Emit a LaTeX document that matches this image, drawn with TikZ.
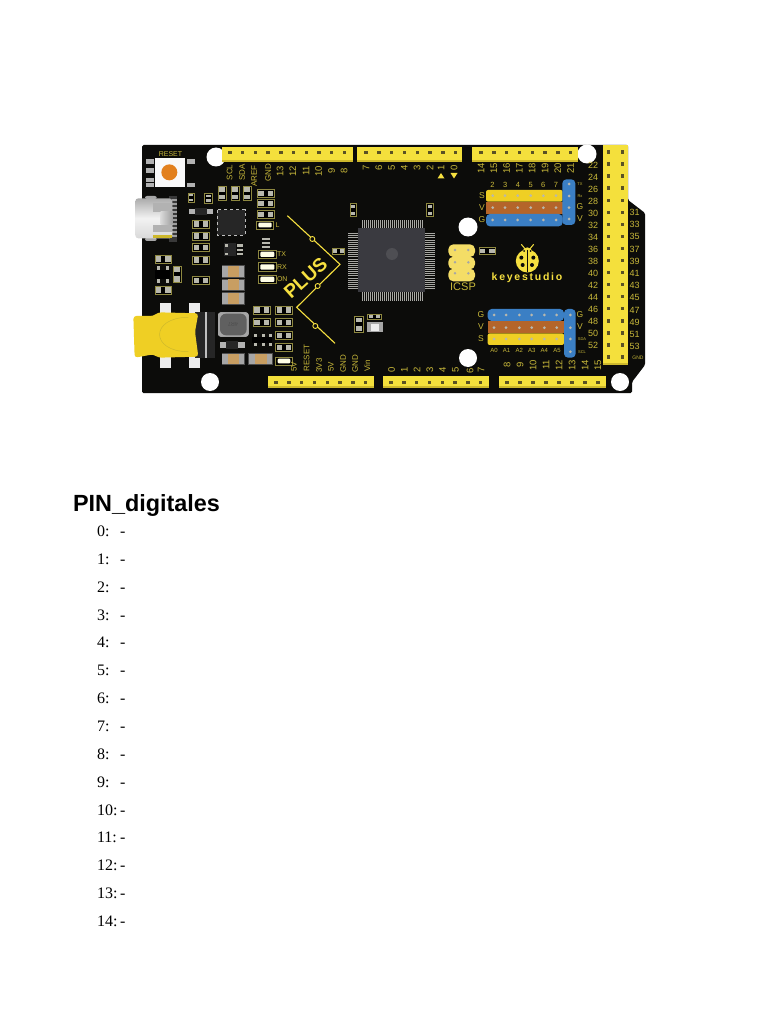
\documentclass[tikz,border=0pt]{standalone}
\usepackage{fontspec}
\setmainfont{Liberation Serif}
\newfontfamily\sansf{Liberation Sans}
\definecolor{pcb}{HTML}{0C0C0A}
\definecolor{hdr}{HTML}{F4E03C}
\definecolor{hdrd}{HTML}{CDB82C}
\definecolor{pinc}{HTML}{5A5224}
\definecolor{silk}{HTML}{C8B83A}
\definecolor{silkb}{HTML}{F6E040}
\definecolor{bluep}{HTML}{3B7FC4}
\definecolor{orgp}{HTML}{B4652A}
\definecolor{yelp}{HTML}{EFCF24}
\definecolor{pcont}{HTML}{B8B8AE}
\definecolor{smdline}{HTML}{8E8840}
\definecolor{chip}{HTML}{3A3A40}
\definecolor{chipleg}{HTML}{A8A8A4}
\definecolor{capt}{HTML}{C89E62}
\newcounter{lblc}
\newcommand{\txt}[4][]{\stepcounter{lblc}\node[lbl,#1] (n\thelblc) at (#2,#3) {#4};}
\newcommand{\hdrbar}[4]{\fill[hdr] (#1,#2) rectangle (#3,#4); \fill[hdrd] (#1,{#4-2}) rectangle (#3,#4);}
\newcommand{\smdh}[4]{\fill[black] ({#1-#3/2},{#2-#4/2}) rectangle ({#1+#3/2},{#2+#4/2});
 \draw[smdline,line width=.7pt] ({#1-#3/2},{#2-#4/2}) rectangle ({#1+#3/2},{#2+#4/2});
 \fill[pcont] ({#1-#3/2+3},{#2-#4/2+4}) rectangle ({#1-#3/8},{#2+#4/2-4});
 \fill[pcont] ({#1+#3/8},{#2-#4/2+4}) rectangle ({#1+#3/2-3},{#2+#4/2-4});}
\newcommand{\smdv}[4]{\fill[black] ({#1-#3/2},{#2-#4/2}) rectangle ({#1+#3/2},{#2+#4/2});
 \draw[smdline,line width=.7pt] ({#1-#3/2},{#2-#4/2}) rectangle ({#1+#3/2},{#2+#4/2});
 \fill[pcont] ({#1-#3/2+4},{#2-#4/2+3}) rectangle ({#1+#3/2-4},{#2-#4/8});
 \fill[pcont] ({#1-#3/2+4},{#2+#4/8}) rectangle ({#1+#3/2-4},{#2+#4/2-3});}
\newcommand{\led}[4]{\fill[black] ({#1-#3/2},{#2-#4/2}) rectangle ({#1+#3/2},{#2+#4/2});
 \draw[smdline,line width=.7pt] ({#1-#3/2},{#2-#4/2}) rectangle ({#1+#3/2},{#2+#4/2});
 \fill[white!90!yellow,rounded corners=1pt] ({#1-#3/2+6},{#2-#4/2+5}) rectangle ({#1+#3/2-6},{#2+#4/2-5});}
\newcommand{\capa}[4]{\fill[black!70] ({#1-#3/2},{#2-#4/2}) rectangle ({#1+#3/2},{#2+#4/2});
 \fill[gray!70] ({#1-#3/2+2},{#2-#4/2+3}) rectangle ({#1+#3/2-2},{#2+#4/2-3});
 \fill[capt] ({#1-#3/4},{#2-#4/2+2}) rectangle ({#1+#3/4},{#2+#4/2-2});}
\tikzset{
 x=1pt,y=-1pt,
 lbl/.style={inner sep=0pt,outer sep=0pt},
 silktxt/.style={text=silk,font=\sansf\fontsize{8}{8}\selectfont},
 hole/.style={fill=white},
 pin/.style={fill=pinc},
 rowpin/.style={fill=pcont},
 listtxt/.style={anchor=base west,font=\fontsize{16}{16}\selectfont},
 left zoom/.style={shift={(130,135)},x=.33333pt,y=-.33333pt},
 right zoom/.style={shift={(380,135)},x=.33333pt,y=-.33333pt},
}
\begin{document}
\begin{tikzpicture}
\fill[white] (0,0) rectangle (768,1024);
\useasboundingbox (0,0) rectangle (768,1024);
% board
\fill[pcb,rounded corners=1.5pt] (142,145) -- (628,145) -- (628,200) -- (645,213) -- (645,365) -- (632,382) -- (632,393) -- (142,393) -- cycle;
% holes
\foreach \hx/\hy/\hr in {216/157/9.5,210/382/9,468/227/9.5,468/358/9,587/154/9.5,620/382/9}
  \fill[hole] (\hx,\hy) circle (\hr pt);
% headers
\hdrbar{222}{147}{353}{162}
\foreach \i in {0,...,9} \fill[pin] ({230+12.7*\i-1.7},151) rectangle +(3.4,3.4);
\hdrbar{357}{147}{462}{162}
\foreach \i in {0,...,7} \fill[pin] ({366+12.8*\i-1.7},151) rectangle +(3.4,3.4);
\hdrbar{472}{147}{578}{162}
\foreach \i in {0,...,7} \fill[pin] ({481+12.8*\i-1.7},151) rectangle +(3.4,3.4);
\hdrbar{268}{376}{374}{388}
\foreach \i in {0,...,7} \fill[pin] ({276+12.8*\i-1.7},380.5) rectangle +(3.4,3.4);
\hdrbar{383}{376}{489}{388}
\foreach \i in {0,...,7} \fill[pin] ({391+12.8*\i-1.7},380.5) rectangle +(3.4,3.4);
\hdrbar{499}{376}{606}{388}
\foreach \i in {0,...,7} \fill[pin] ({507+13*\i-1.7},380.5) rectangle +(3.4,3.4);
\fill[hdr] (603,145) rectangle (628,365);
\fill[hdrd] (603,363) rectangle (628,365);
\foreach \i in {0,...,17} {
  \fill[pin] (606.5,{152+12.06*\i-1.7}) rectangle +(3.4,3.4);
  \fill[pin] (620.5,{152+12.06*\i-1.7}) rectangle +(3.4,3.4);
}
% MCU
\fill[chipleg] (361,220) rectangle (423,228);
\fill[chipleg] (361,292) rectangle (423,301);
\fill[chipleg] (348,232) rectangle (358,290);
\fill[chipleg] (425,232) rectangle (435,290);
\foreach \i in {0,...,30} {
  \draw[pcb,line width=.25pt] ({361+2*\i},220) -- +(0,8);
  \draw[pcb,line width=.25pt] ({361+2*\i},292) -- +(0,9);
  \draw[pcb,line width=.25pt] (348,{232+1.9*\i}) -- +(10,0);
  \draw[pcb,line width=.25pt] (425,{232+1.9*\i}) -- +(10,0);
}
\fill[chip] (358,228) rectangle (425,292);
\fill[chip!90!white] (392,254) circle (6pt);
% ----- left part, in crop coordinates
\begin{scope}[left zoom]
 % reset
 \foreach \lx/\ly in {47/72,47/100,47/128,170/72,170/143,47/143}
   \fill[gray!60] (\lx,\ly) rectangle +(26,14);
 \fill[white!95!gray] (75,70) rectangle (165,155);
 \fill[orange!55!brown] (118,112) circle (8pt);
 % USB-C
 \fill[gray!45!black] (118,183) rectangle (142,320);
 \foreach \i in {0,...,9} \fill[gray!75] (126,{192+12*\i}) rectangle +(14,6);
 \fill[gray!70,rounded corners=2pt] (45,183) rectangle (80,192);
 \fill[gray!70,rounded corners=2pt] (45,308) rectangle (80,318);
 \shade[top color=gray!65,bottom color=gray!30,middle color=gray!10,rounded corners=3pt] (16,190) rectangle (127,310);
 \fill[gray!60] (68,205) rectangle (127,230);
 \fill[gray!60] (68,270) rectangle (127,292);
 \shade[left color=gray!30,right color=gray!75] (92,230) rectangle (127,270);
 \fill[hdrd] (70,300) rectangle (125,310);
 % parts
 \smdv{183}{188}{18}{28}
 \smdv{235}{190}{24}{28}
 \fill[gray!60] (176,222) rectangle (250,236);
 \fill[black!85] (195,219) rectangle (232,239);
 \foreach \py in {267,303,338,375,437} \smdh{213}{\py}{50}{24}
 \smdh{100}{372}{50}{24}
 \smdh{100}{465}{50}{24}
 \smdv{142}{418}{26}{50}
 \foreach \lx in {82,107} \fill[pcont] (\lx,393) rectangle +(9,50);
 \fill[black] (76,405) rectangle (120,432);
 \foreach \px in {277,316,352} \smdv{\px}{175}{26}{42}
 \foreach \py in {175,205,238} \smdh{407}{\py}{50}{24}
 \smdv{670}{225}{20}{38}
 \smdh{625}{348}{38}{18}
 \foreach \py in {525,562} \smdh{395}{\py}{50}{24}
 \foreach \py in {525,562,602,637} \smdh{462}{\py}{50}{24}
 \led{462}{678}{50}{24}
 \foreach \lx in {372,395,418} \fill[pcont] (\lx,597) rectangle +(9,36);
 \fill[black] (365,606) rectangle (425,624);
 \fill[gray!60] (270,622) rectangle (345,638);
 \fill[black!85] (288,618) rectangle (325,642);
 \smdv{687}{568}{26}{46}
 \smdh{733}{545}{40}{16}
 \fill[gray!70] (710,562) rectangle (760,592);
 \fill[white!85!gray] (722,566) rectangle (748,588);
 \foreach \py in {310,322,334,346} \fill[pcont] (395,\py) rectangle +(24,6);
 % ic
 \fill[black!85] (262,224) rectangle (345,300);
 \draw[gray!50,line width=.6pt,dashed] (262,224) rectangle (345,300);
 \fill[black!85] (282,325) rectangle (318,362);
 \foreach \py in {328,341,354} \fill[pcont] (320,\py) rectangle +(20,7);
 \foreach \py in {328,354} \fill[pcont] (285,\py) rectangle +(10,7);
 % LEDs
 \led{405}{270}{52}{24}
 \foreach \py in {358,396,433} \led{412}{\py}{54}{26}
 % caps
 \capa{310}{410}{70}{37}
 \capa{310}{450}{70}{37}
 \capa{310}{491}{70}{38}
 \capa{310}{672}{70}{36}
 \capa{392}{672}{74}{36}
 % inductor
 \fill[black!35,rounded corners=3pt] (264,532) rectangle (356,605);
 \fill[gray!75!black,rounded corners=6pt] (270,536) rectangle (350,601);
 % barrel jack
 \foreach \lx/\ly in {90/503,177/503,90/665,177/665}
   \fill[white!85!gray] (\lx,\ly) rectangle +(32,35);
 \fill[black!85] (195,532) rectangle (255,668);
 \fill[gray!50] (225,532) rectangle (232,668);
 \fill[yelp,rounded corners=3pt] (10,543) -- (70,543) -- (85,532) -- (205,535) -- (195,590) -- (205,665) -- (85,668) -- (70,658) -- (14,668) -- cycle;
 \draw[hdrd,line width=.5pt] (175,547) .. controls (60,547) and (60,650) .. (175,650);
 % chevron
 \draw[silkb,line width=1.1pt] (472,242) -- (630,388) -- (500,517) -- (615,625);
 \foreach \cx/\cy in {547/312,563/453,556/573}
   \draw[silkb,line width=.9pt,fill=pcb] (\cx,\cy) circle (2.5pt);
\end{scope}
\txt[text=black!70,rotate=180,font=\sansf\fontsize{5.5}{5.5}\selectfont]{233}{324.5}{4R7}
\txt[text=silkb,font=\sansf\bfseries\fontsize{19}{19}\selectfont,rotate=42]{305.5}{278}{PLUS}
\txt[silktxt,font=\sansf\fontsize{7}{7}\selectfont]{170.5}{154.5}{RESET}
\foreach \tname/\tx/\ty/\tsz [count=\k] in {SCL/229.5/172.5/8,SDA/242/172.5/8,AREF/254/176/8,GND/268/172.5/8,13/280/171/9.5,12/292.7/171/9.5,11/306/171/9.5,10/318.7/171/9.5,9/331.5/171/9.5,8/344/171/9.5,7/366/168/9.5,6/378.8/168/9.5,5/391.6/168/9.5,4/404.4/168/9.5,3/417.2/168/9.5,2/430/168/9.5,1/441/168/9.5,0/454/168/9.5,14/481/168/9.5,15/493.8/168/9.5,16/506.6/168/9.5,17/519.4/168/9.5,18/532.2/168/9.5,19/545/168/9.5,20/557.8/168/9.5,21/570.6/168/9.5}
  \node[lbl,silktxt,rotate=90,font=\sansf\fontsize{\tsz}{\tsz}\selectfont] (top\k) at (\tx,\ty) {\tname};
\fill[silkb] (441,173) -- (444.5,178.5) -- (437.5,178.5) -- cycle;
\fill[silkb] (454,178.5) -- (457.5,173) -- (450.5,173) -- cycle;
\foreach \tname/\tx/\ty/\tsz [count=\k] in {5V/294/367/8,RESET/306.5/358/8,3V3/319/365.5/8,5V/331/367/8,GND/343/364/8,GND/355/364/8,Vin/367.3/366/8,0/391.5/370/9.5,1/404.3/370/9.5,2/417/370/9.5,3/429.9/370/9.5,4/442.7/370/9.5,5/455.5/370/9.5,6/470/370.5/9.5,7/481.1/370/9.5,8/507/365/9.5,9/520/365/9.5,10/533/365/9.5,11/546/365/9.5,12/559/365/9.5,13/572/365/9.5,14/585/365/9.5,15/598/365/9.5}
  \node[lbl,silktxt,rotate=90,font=\sansf\fontsize{\tsz}{\tsz}\selectfont] (bot\k) at (\tx,\ty) {\tname};
\foreach \tname [count=\k from 0] in {22,24,26,28,30,32,34,36,38,40,42,44,46,48,50,52}
  \node[lbl,silktxt,font=\sansf\fontsize{9}{9}\selectfont] (ev\k) at (593,{165+12*\k}) {\tname};
\foreach \tname [count=\k from 0] in {31,33,35,37,39,41,43,45,47,49,51,53}
  \node[lbl,silktxt,font=\sansf\fontsize{9}{9}\selectfont] (od\k) at (634.5,{212.5+12.2*\k}) {\tname};
\txt[silktxt,font=\sansf\fontsize{5}{5}\selectfont]{638}{358}{GND}
\txt[silktxt,anchor=west,font=\sansf\fontsize{7}{7}\selectfont]{275.5}{225}{L}
\txt[silktxt,anchor=west,font=\sansf\fontsize{7}{7}\selectfont]{277}{254.5}{TX}
\txt[silktxt,anchor=west,font=\sansf\fontsize{7}{7}\selectfont]{277}{267}{RX}
\txt[silktxt,anchor=west,font=\sansf\fontsize{7}{7}\selectfont]{277}{279.5}{ON}
% ----- right part
\begin{scope}[right zoom]
 \smdv{150}{225}{20}{38}
 \smdh{322}{347}{50}{20}
 % upper pin rows
 \fill[yelp,rounded corners=2pt] (318,165) rectangle (548,200);
 \fill[orgp] (318,200) rectangle (548,237);
 \fill[bluep,rounded corners=4pt] (318,237) rectangle (548,274);
 \fill[bluep,rounded corners=4pt] (547,133) rectangle (586,270);
 \foreach \px in {338,375,413,452,490,528} \foreach \py in {182,218,255}
   \fill[rowpin] (\px,\py) circle (1.5pt);
 \foreach \py in {147,183,218,252} \fill[rowpin] (567,\py) circle (1.5pt);
 % lower pin rows
 \fill[bluep,rounded corners=4pt] (323,522) rectangle (552,558);
 \fill[orgp] (323,558) rectangle (552,595);
 \fill[yelp,rounded corners=2pt] (323,595) rectangle (552,630);
 \fill[bluep,rounded corners=4pt] (552,522) rectangle (587,668);
 \foreach \px in {342,378,418,455,493,530} \foreach \py in {540,578,612}
   \fill[rowpin] (\px,\py) circle (1.5pt);
 \foreach \py in {540,578,612,650} \fill[rowpin] (571,\py) circle (1.5pt);
 % ICSP
 \foreach \ry in {328,365,401}
   \fill[yelp!70!white,rounded corners=5pt] (205,\ry) rectangle (285,{\ry+38});
 \foreach \px in {225,265} \foreach \py in {345,382,415}
   \fill[gray!70] (\px,\py) circle (1.4pt);
 % ladybug
 \draw[silkb,line width=1pt] (424,328) -- (438,345);
 \draw[silkb,line width=1pt] (461,328) -- (447,345);
 \fill[silkb] (442,352) circle (5pt);
 \fill[silkb] (442,378) circle (11.5pt);
 \draw[pcb,line width=.7pt] (442,345) -- (442,410);
 \foreach \sx/\sy in {424/368,460/368,428/390,456/390}
   \fill[pcb] (\sx,\sy) circle (2pt);
 \fill[pcb] (432,348) circle (1pt);
 \fill[pcb] (452,348) circle (1pt);
\end{scope}
\txt[text=silkb,font=\sansf\bfseries\fontsize{10.5}{10.5}\selectfont]{527}{278}{k\,e\,y\,e\,s\,t\,u\,d\,i\,o}
\txt[silktxt,font=\sansf\fontsize{11}{11}\selectfont]{463}{287}{ICSP}
\foreach \tname [count=\k from 0] in {2,3,4,5,6,7}
  \node[lbl,silktxt,font=\sansf\fontsize{7.5}{7.5}\selectfont] (ur\k) at ({492.5+12.7*\k},185) {\tname};
\foreach \tname [count=\k from 0] in {A0,A1,A2,A3,A4,A5}
  \node[lbl,silktxt,font=\sansf\fontsize{6}{6}\selectfont] (ar\k) at ({494+12.6*\k},350) {\tname};
\foreach \tname/\tx/\ty/\tsz [count=\k] in {S/482/196/8.5,V/482/208/8.5,G/482/220/8.5,G/481/315/8.5,V/481/327/8.5,S/481/339/8.5,G/580/207/8.5,V/580/219/8.5,G/580/315/8.5,V/580/327/8.5,TX/580/184.5/4,Rx/580/196.5/4,SDA/582/339/4,SCL/582/352/4}
  \node[lbl,silktxt,font=\sansf\fontsize{\tsz}{\tsz}\selectfont] (side\k) at (\tx,\ty) {\tname};
% ----- text block
\node[lbl,anchor=base west,font=\sansf\bfseries\fontsize{23.4}{23.4}\selectfont] (title) at (73,511) {PIN\_digitales};
\foreach \i in {0,...,9} {
  \node[lbl,listtxt] (pn\i) at (97,{536.5+27.86*\i}) {\i:};
  \node[lbl,listtxt] (pd\i) at (120,{536.5+27.86*\i}) {-};
}
\foreach \i in {10,...,14} {
  \node[lbl,listtxt] (pn\i) at (97,{536.5+27.86*\i}) {\i:};
  \node[lbl,listtxt] (pd\i) at (120,{536.5+27.86*\i}) {-};
}
\end{tikzpicture}
\end{document}
